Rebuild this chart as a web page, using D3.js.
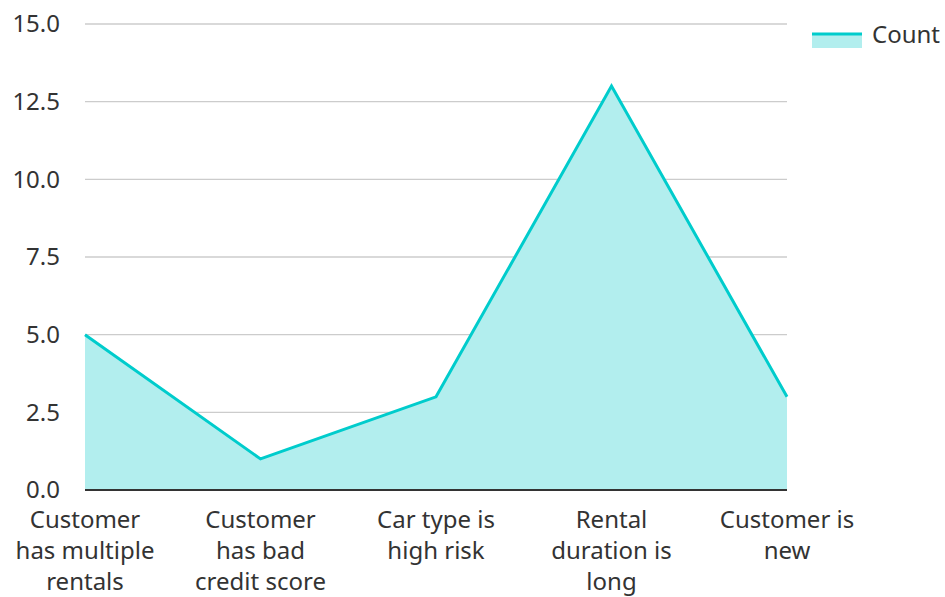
<!DOCTYPE html>
<html>
<head>
<meta charset="utf-8">
<script src="https://cdn.jsdelivr.net/npm/d3@7"></script>
<style>
  body { margin: 0; background: #fff; }
  svg { display: block; font-family: "Noto Sans", "Open Sans", sans-serif; }
</style>
</head>
<body>
<svg id="chart" width="945" height="597"></svg>
<script>
const categories = [
  ["Customer", "has multiple", "rentals"],
  ["Customer", "has bad", "credit score"],
  ["Car type is", "high risk"],
  ["Rental", "duration is", "long"],
  ["Customer is", "new"]
];
const counts = [5, 1, 3, 13, 3];
const yTicks = [0, 2.5, 5, 7.5, 10, 12.5, 15];
const seriesName = "Count";

const lineColor = "#00cccc";
const fillColor = "#b2eeee";
const fontSize = 24;

const svg = d3.select("#chart");
const margin = { left: 85, right: 158, top: 24, bottom: 107 };
const W = 945, H = 597;

const x = d3.scalePoint()
  .domain(d3.range(categories.length))
  .range([margin.left, W - margin.right])
  .padding(0);
const y = d3.scaleLinear().domain([0, 15]).range([H - margin.bottom, margin.top]);

// grid lines
svg.append("g")
  .selectAll("line")
  .data(yTicks.filter(t => t > 0))
  .join("line")
  .attr("x1", margin.left).attr("x2", W - margin.right)
  .attr("y1", d => y(d)).attr("y2", d => y(d))
  .attr("stroke", "#cccccc").attr("stroke-width", 1.3);

// y tick labels
svg.append("g")
  .selectAll("text")
  .data(yTicks)
  .join("text")
  .attr("x", 60).attr("y", d => y(d))
  .attr("dy", "0.35em")
  .attr("text-anchor", "end")
  .attr("font-size", fontSize)
  .attr("fill", "#333")
  .text(d => d.toFixed(1));

const data = counts.map((v, i) => ({ i, v }));

svg.append("path")
  .datum(data)
  .attr("fill", fillColor)
  .attr("d", d3.area().x(d => x(d.i)).y0(y(0)).y1(d => y(d.v)));

svg.append("path")
  .datum(data)
  .attr("fill", "none")
  .attr("stroke", lineColor)
  .attr("stroke-width", 3)
  .attr("stroke-linejoin", "miter")
  .attr("d", d3.line().x(d => x(d.i)).y(d => y(d.v)));

// x baseline
svg.append("line")
  .attr("x1", margin.left).attr("x2", W - margin.right)
  .attr("y1", y(0)).attr("y2", y(0))
  .attr("stroke", "#333").attr("stroke-width", 2);

// x labels
const xl = svg.append("g")
  .selectAll("text")
  .data(categories)
  .join("text")
  .attr("text-anchor", "middle")
  .attr("font-size", fontSize)
  .attr("fill", "#333")
  .attr("transform", (d, i) => `translate(${x(i)},${y(0) + 38})`);
xl.selectAll("tspan")
  .data(d => d)
  .join("tspan")
  .attr("x", 0)
  .attr("y", (d, j) => j * 31)
  .text(d => d);

// legend
const lg = svg.append("g").attr("transform", "translate(812,34)");
lg.append("rect").attr("x", 0).attr("y", 0).attr("width", 50).attr("height", 14).attr("fill", fillColor);
lg.append("line").attr("x1", 0).attr("x2", 50).attr("y1", 0).attr("y2", 0)
  .attr("stroke", lineColor).attr("stroke-width", 3);
lg.append("text").attr("x", 60).attr("y", 1).attr("dy", "0.35em")
  .attr("font-size", fontSize).attr("fill", "#333").text(seriesName);
</script>
</body>
</html>
